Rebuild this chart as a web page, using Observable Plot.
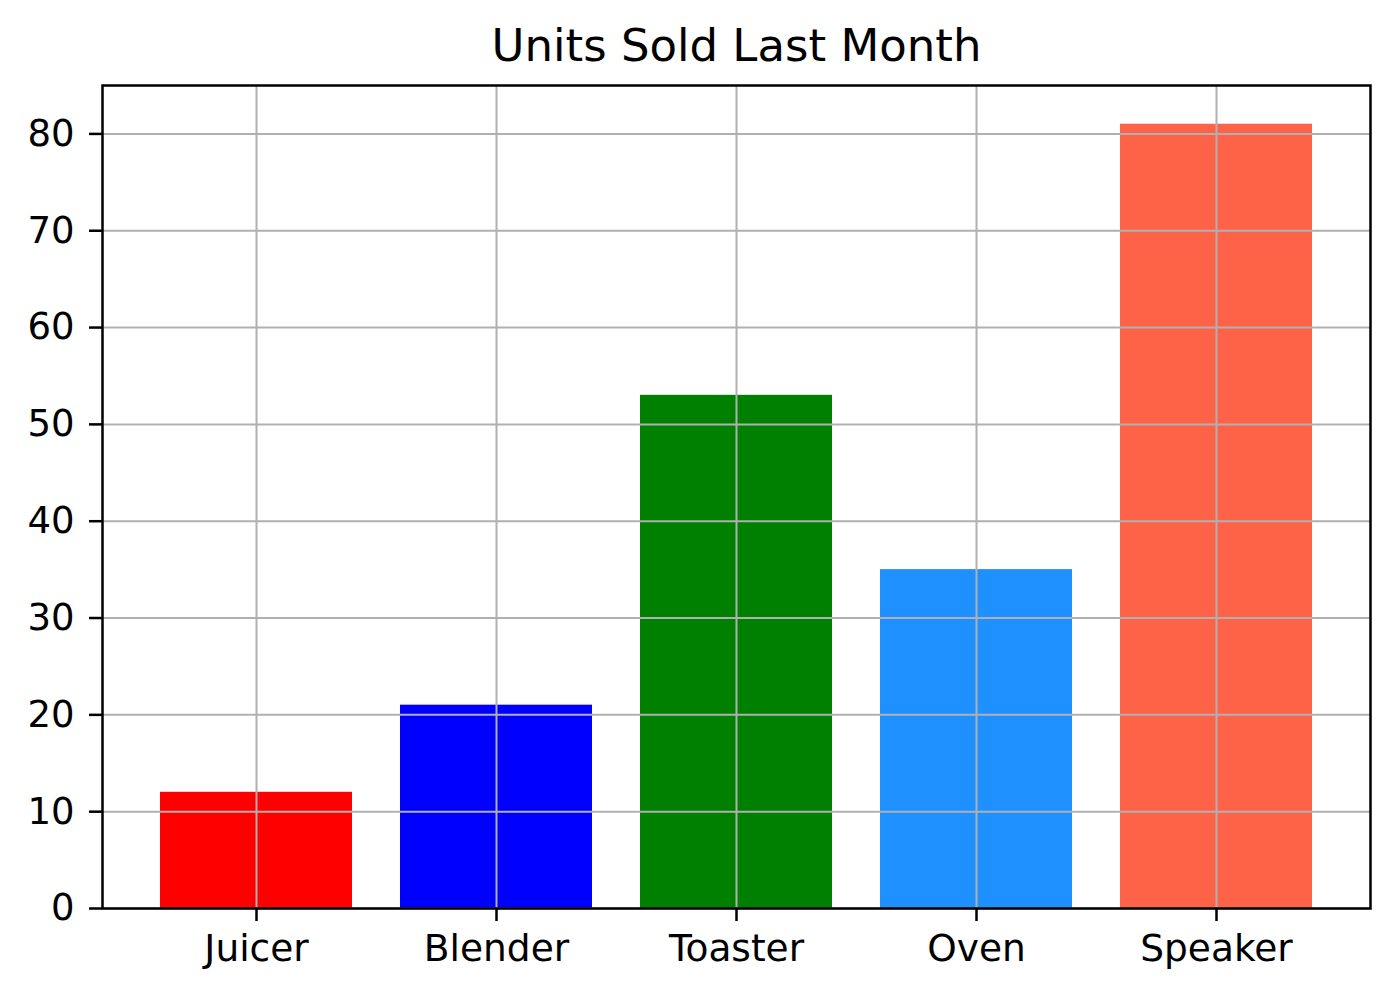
<!DOCTYPE html>
<html>
<head>
<meta charset="utf-8">
<script src="https://cdn.jsdelivr.net/npm/d3@7"></script>
<script src="https://cdn.jsdelivr.net/npm/@observablehq/plot@0.6"></script>
<style>
  html, body { margin: 0; padding: 0; background: #fff; }
  #chart svg { display: block; }
</style>
</head>
<body>
<div id="chart"></div>
<script>
const chartTitle = "Units Sold Last Month";
const products = ["Juicer", "Blender", "Toaster", "Oven", "Speaker"];
const unitsSold = [12, 21, 53, 35, 81];
const barColors = ["red", "blue", "green", "dodgerblue", "tomato"];
const yTicks = [0, 10, 20, 30, 40, 50, 60, 70, 80];

const data = products.map((p, i) => ({product: p, units: unitsSold[i], color: barColors[i]}));

const font = "'DejaVu Sans', sans-serif";

const chart = Plot.plot({
  width: 1400,
  height: 998,
  marginLeft: 102,
  marginRight: 30,
  marginTop: 85,
  marginBottom: 90,
  style: {fontFamily: font, color: "black", background: "white"},
  x: {type: "band", domain: products, paddingInner: 0.2, paddingOuter: 0.24, align: 0.5, label: null},
  y: {domain: [0, 85], label: null},
  color: {type: "identity"},
  marks: [
    Plot.barY(data, {x: "product", y: "units", fill: "color"}),
    Plot.gridY(yTicks, {stroke: "#b0b0b0", strokeOpacity: 1, strokeWidth: 2}),
    Plot.gridX(products, {stroke: "#b0b0b0", strokeOpacity: 1, strokeWidth: 2}),
    Plot.frame({stroke: "black", strokeWidth: 2.5}),
    Plot.axisY(yTicks, {tickSize: 13, tickPadding: 15, fontSize: 37, strokeWidth: 2.5, label: null, tickFormat: d => String(d)}),
    Plot.axisX(products, {tickSize: 13, tickPadding: 13, fontSize: 37.5, strokeWidth: 2.5, label: null}),
    Plot.text([chartTitle], {frameAnchor: "top", lineAnchor: "middle", dy: -39, fontSize: 45, fill: "black", text: d => d})
  ]
});

document.getElementById("chart").appendChild(chart);
</script>
</body>
</html>
